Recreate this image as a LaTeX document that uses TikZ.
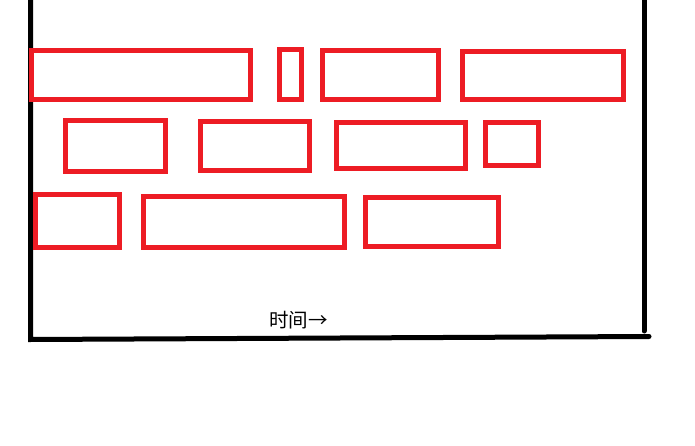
\documentclass[tikz,border=0pt]{standalone}
\usepackage{fontspec}
\newfontfamily\cjk{Noto Sans CJK SC}
\definecolor{paintred}{HTML}{ED1C24}
\begin{document}
\begin{tikzpicture}[x=1pt,y=-1pt,
  box/.style={draw=paintred,line width=4.7pt,inner sep=0pt,rectangle},
  axis/.style={draw=black,line width=5pt,line cap=round}]
\useasboundingbox (0,0) rectangle (695,446);
% axes
\coordinate (tl) at (30.5,-3);
\coordinate (bl) at (30.5,339.5);
\coordinate (br) at (649,336.5);
\coordinate (tr) at (644,-3);
\coordinate (rb) at (644,331);
\draw[axis] (tl) -- (bl) -- (br);
\draw[axis] (tr) -- (rb);
% row 1
\node[box,minimum width=219.3pt,minimum height=49.3pt] (r1) at (141,75) {};
\node[box,minimum width=22.3pt,minimum height=50.3pt] (r2) at (290.5,74.5) {};
\node[box,minimum width=116.3pt,minimum height=49.3pt] (r3) at (380.5,75) {};
\node[box,minimum width=161.3pt,minimum height=48.3pt] (r4) at (543,75.5) {};
% row 2
\node[box,minimum width=100.3pt,minimum height=51.3pt] (r5) at (115.5,146) {};
\node[box,minimum width=109.3pt,minimum height=49.3pt] (r6) at (255,146) {};
\node[box,minimum width=129.3pt,minimum height=46.3pt] (r7) at (401,145.5) {};
\node[box,minimum width=53.3pt,minimum height=43.3pt] (r8) at (512,144) {};
% row 3
\node[box,minimum width=84.3pt,minimum height=53.3pt] (r9) at (77.5,221) {};
\node[box,minimum width=201.3pt,minimum height=51.3pt] (r10) at (244,222) {};
\node[box,minimum width=133.3pt,minimum height=49.3pt] (r11) at (432,222) {};
\node[anchor=west,inner sep=0pt,font=\cjk\fontsize{19.5}{19.5}\selectfont] (lbl) at (269,320) {时间→};
\end{tikzpicture}
\end{document}
